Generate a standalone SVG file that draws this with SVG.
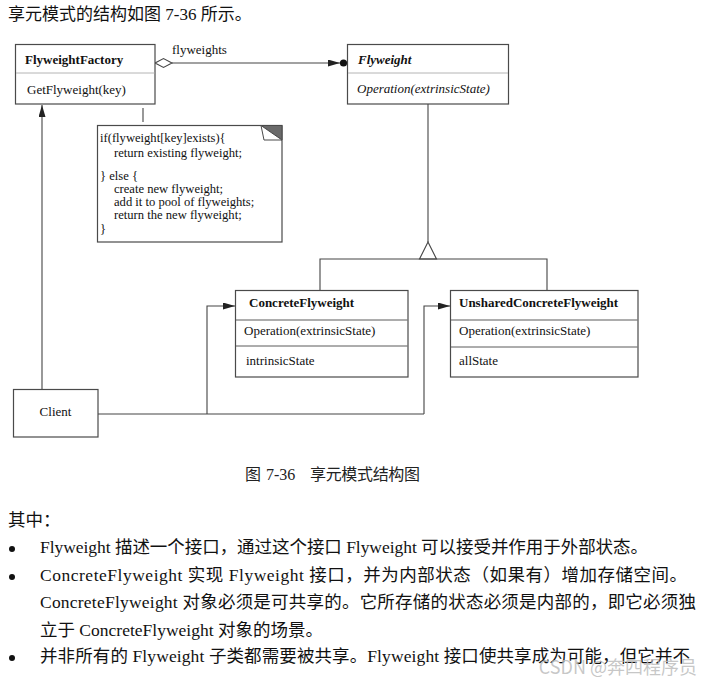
<svg xmlns="http://www.w3.org/2000/svg" width="713" height="683" viewBox="0 0 713 683">
<style>
  .bg { fill: #ffffff; }
  .box { fill: #ffffff; stroke: #4a4a4a; stroke-width: 1.2; }
  .div { stroke: #b4b4b4; stroke-width: 1; }
  .div2 { stroke: #5a5a5a; stroke-width: 1; }
  .t { font-family: "Liberation Serif", "Times New Roman", serif; font-size: 13px; fill: #111; }
  .n { font-family: "Liberation Serif", "Times New Roman", serif; font-size: 12.6px; fill: #111; }
  .b { font-weight: bold; }
  .i { font-style: italic; }
  .line { fill: none; stroke: #444; stroke-width: 1.1; }
  .body { font-family: "Liberation Serif", "Noto Sans CJK SC", serif; font-size: 17.5px; fill: #111; }
  .cap { font-family: "Liberation Serif", "Noto Sans CJK SC", serif; font-size: 16px; fill: #222; }
</style>
<defs>
  <marker id="arrow" markerUnits="userSpaceOnUse" markerWidth="13" markerHeight="8" refX="12" refY="3.5" orient="auto">
    <path d="M0,0 L12,3.5 L0,7 Z" fill="#222"/>
  </marker>
</defs>
<rect class="bg" x="0" y="0" width="713" height="683"/>

<text class="body" x="8" y="20" style="font-size:17px">享元模式的结构如图 7-36 所示。</text>

<g id="connectors">
  <!-- aggregation FlyweightFactory -> Flyweight -->
  <polygon points="155,63 163.5,58.5 172,63 163.5,67.5" fill="#fff" stroke="#444" stroke-width="1.1"/>
  <line class="line" x1="172" y1="63" x2="340" y2="63" marker-end="url(#arrow)"/>
  <circle cx="343.5" cy="63" r="3.6" fill="#111"/>
  <text class="t" x="172" y="54">flyweights</text>
  <!-- note attachment -->
  <circle cx="143" cy="87.5" r="4" fill="#fff" stroke="#444" stroke-width="1.1"/>
  <line class="line" x1="143" y1="91.5" x2="143" y2="104"/>
  <line class="line" x1="143" y1="108" x2="143" y2="122"/>
  <!-- generalization -->
  <line class="line" x1="428" y1="104" x2="428" y2="242"/>
  <polygon points="428,242 419.5,259 436.5,259" fill="#fff" stroke="#444" stroke-width="1.1"/>
  <polyline class="line" points="320,290 320,259 547,259 547,290"/>
  <!-- Client -> FlyweightFactory -->
  <line class="line" x1="42" y1="389" x2="42" y2="105" marker-end="url(#arrow)"/>
  <!-- Client -> ConcreteFlyweight / UnsharedConcreteFlyweight -->
  <line class="line" x1="98" y1="414" x2="424" y2="414"/>
  <polyline class="line" points="207,414 207,306 235,306" marker-end="url(#arrow)"/>
  <polyline class="line" points="424,414 424,306 450,306" marker-end="url(#arrow)"/>
</g>

<g id="FlyweightFactory">
  <rect class="box" x="15.5" y="44.5" width="139.5" height="59.5"/>
  <line class="div" x1="16" y1="73" x2="154.5" y2="73"/>
  <text class="t b" x="25" y="64">FlyweightFactory</text>
  <text class="t" x="27" y="94">GetFlyweight(key)</text>
</g>

<g id="Flyweight">
  <rect class="box" x="347.5" y="44.5" width="161" height="59.5"/>
  <line class="div" x1="348" y1="73" x2="508" y2="73"/>
  <text class="t b i" x="358" y="64">Flyweight</text>
  <text class="t i" x="357" y="93">Operation(extrinsicState)</text>
</g>

<g id="Note">
  <rect class="box" x="97.5" y="125.5" width="184.5" height="116.5"/>
  <polygon points="261,125.5 282,125.5 282,140" fill="#6a6a6a" stroke="#4a4a4a" stroke-width="1"/>
  <polygon points="261,125.5 264,140 282,140" fill="#fff" stroke="#4a4a4a" stroke-width="1"/>
  <text class="n" x="100" y="142">if(flyweight[key]exists){</text>
  <text class="n" x="114" y="156.5">return existing flyweight;</text>
  <text class="n" x="100" y="180">} else {</text>
  <text class="n" x="114" y="193">create new flyweight;</text>
  <text class="n" x="114" y="206">add it to pool of flyweights;</text>
  <text class="n" x="114" y="219">return the new flyweight;</text>
  <text class="n" x="100" y="232.5">}</text>
</g>

<g id="ConcreteFlyweight">
  <rect class="box" x="235.5" y="290.5" width="172.5" height="86.5"/>
  <line class="div2" x1="236" y1="320" x2="407.5" y2="320"/>
  <line class="div2" x1="236" y1="346" x2="407.5" y2="346"/>
  <text class="t b" x="249" y="307">ConcreteFlyweight</text>
  <text class="t" x="244" y="335">Operation(extrinsicState)</text>
  <text class="t" x="246" y="365">intrinsicState</text>
</g>

<g id="UnsharedConcreteFlyweight">
  <rect class="box" x="450.5" y="290.5" width="187.5" height="86.5"/>
  <line class="div2" x1="451" y1="320" x2="637.5" y2="320"/>
  <line class="div2" x1="451" y1="347" x2="637.5" y2="347"/>
  <text class="t b" x="459" y="307">UnsharedConcreteFlyweight</text>
  <text class="t" x="459" y="335">Operation(extrinsicState)</text>
  <text class="t" x="459" y="365">allState</text>
</g>

<g id="Client">
  <rect class="box" x="13.5" y="389.5" width="84.5" height="47.5"/>
  <text class="t" x="55.5" y="416" text-anchor="middle">Client</text>
</g>

<g id="caption">
  <text class="cap" x="245" y="480">图</text>
  <text class="cap" x="266" y="480">7-36</text>
  <text class="cap" x="310" y="480" textLength="110" lengthAdjust="spacing">享元模式结构图</text>
</g>

<g id="bodytext">
  <text class="body" x="8" y="526">其中：</text>
  <circle cx="12" cy="549" r="3" fill="#111"/>
  <circle cx="12" cy="577" r="3" fill="#111"/>
  <circle cx="12" cy="658" r="3" fill="#111"/>
  <text class="body" x="40" y="553" textLength="608" lengthAdjust="spacing">Flyweight 描述一个接口，通过这个接口 Flyweight 可以接受并作用于外部状态。</text>
  <text class="body" x="40" y="581" textLength="647" lengthAdjust="spacing">ConcreteFlyweight  实现  Flyweight  接口，并为内部状态（如果有）增加存储空间。</text>
  <text class="body" x="40" y="608" textLength="656" lengthAdjust="spacing">ConcreteFlyweight 对象必须是可共享的。它所存储的状态必须是内部的，即它必须独</text>
  <text class="body" x="40" y="636">立于 ConcreteFlyweight 对象的场景。</text>
  <text class="body" x="40" y="662" textLength="650" lengthAdjust="spacing">并非所有的 Flyweight 子类都需要被共享。Flyweight 接口使共享成为可能，但它并不</text>
  <text x="697" y="674" text-anchor="end" font-family="'Noto Sans CJK SC', 'Noto Sans', sans-serif" font-size="18" fill="#bdbdbd" fill-opacity="0.85">CSDN @奔四程序员</text>
</g>
</svg>
